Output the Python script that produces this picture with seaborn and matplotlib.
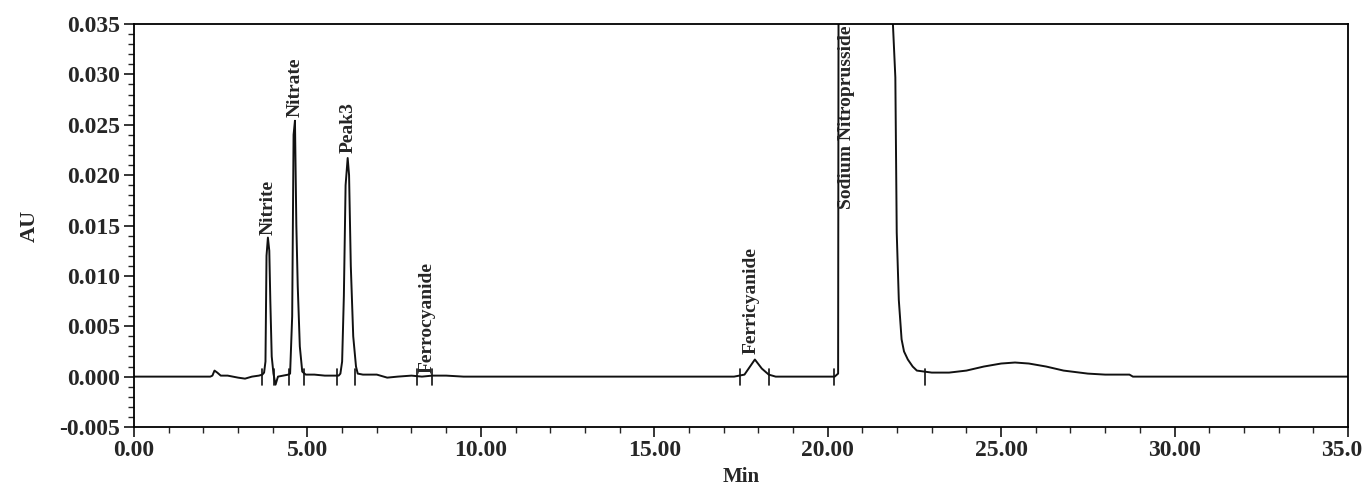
import matplotlib
matplotlib.use("Agg")
import matplotlib.pyplot as plt
import seaborn as sns
import numpy as np
import pandas as pd
from matplotlib.ticker import MultipleLocator, FormatStrFormatter

# trace (min, AU)
time = [0.0, 2.2, 2.26, 2.32, 2.4, 2.5, 2.7, 3.0, 3.2, 3.4, 3.6, 3.7,
        3.75, 3.79, 3.82, 3.86, 3.9, 3.93, 3.97, 4.02, 4.08, 4.15, 4.3, 4.45,
        4.5, 4.56, 4.6, 4.64, 4.68, 4.72, 4.78, 4.85, 4.95, 5.2, 5.5, 5.9,
        5.95, 6.0, 6.05, 6.1, 6.16, 6.2, 6.25, 6.32, 6.4, 6.45, 6.6, 7.0,
        7.1, 7.3, 7.6, 8.0, 8.3, 8.6, 9.0, 9.5, 10.0, 12.0, 15.0, 17.3,
        17.6, 17.8, 17.9, 18.1, 18.3, 18.5, 20.2, 20.3, 20.32, 21.85,
        21.88, 21.95, 21.99, 22.05, 22.13, 22.2, 22.31, 22.45, 22.57, 23.0,
        23.5, 24.0, 24.5, 25.0, 25.4, 25.8, 26.3, 26.8, 27.5, 28.0, 28.7,
        28.8, 30.0, 35.0]
absorbance = [0.0, 0.0, 0.0001, 0.0006, 0.0004, 0.0001, 0.0001, -0.0001, -0.0002, 0.0, 0.0001, 0.0002,
              0.0004, 0.0015, 0.0120, 0.0138, 0.0125, 0.0075, 0.0020, 0.0003, -0.0008, 0.0, 0.0001, 0.0002,
              0.0003, 0.0060, 0.0240, 0.0254, 0.0150, 0.0090, 0.0030, 0.0005, 0.0002, 0.0002, 0.0001, 0.0001,
              0.0003, 0.0015, 0.0080, 0.0190, 0.0217, 0.0200, 0.0110, 0.0040, 0.0010, 0.0003, 0.0002, 0.0002,
              0.0001, -0.0001, 0.0, 0.0001, 0.0, 0.0001, 0.0001, 0.0, 0.0, 0.0, 0.0, 0.0,
              0.0002, 0.0012, 0.0017, 0.0008, 0.0002, 0.0, 0.0, 0.0003, 0.06, 0.06,
              0.0350, 0.0297, 0.0143, 0.0076, 0.0037, 0.0025, 0.0017, 0.0010, 0.0006, 0.0004,
              0.0004, 0.0006, 0.0010, 0.0013, 0.0014, 0.0013, 0.0010, 0.0006, 0.0003, 0.0002, 0.0002,
              0.0, 0.0, 0.0]

# integration marks on the baseline
marks = [3.70, 4.04, 4.47, 4.91, 5.86, 6.37, 8.15, 8.59, 17.47, 18.30, 20.18, 22.80]

peak_names = ["Nitrite", "Nitrate", "Peak3", "Ferrocyanide", "Ferricyanide", "Sodium Nitroprusside"]
peak_x = [3.86, 4.64, 6.16, 8.45, 17.8, 20.55]
peak_y = [0.0141, 0.0258, 0.0222, 0.0004, 0.0022, 0.0349]

sns.set_style("ticks")
plt.rcParams['font.family'] = ['Liberation Serif', 'DejaVu Serif']
plt.rcParams['font.weight'] = 'bold'

fig = plt.figure(figsize=(13.62, 4.88), dpi=100)
ax = fig.add_axes([0.0984, 0.125, 0.8913, 0.8258])

df = pd.DataFrame({"Min": time, "AU": absorbance})
sns.lineplot(data=df, x="Min", y="AU", ax=ax, color="#111111", linewidth=1.4,
             estimator=None, sort=False)

for m in marks:
    ax.plot([m, m], [-0.0008, 0.0008], color="#111111", linewidth=1.2)

for name, px, py in zip(peak_names, peak_x, peak_y):
    va = 'top' if py > 0.03 else 'bottom'
    ax.text(px, py, name, rotation=90, ha='center', va=va, fontsize=14,
            fontweight='bold')

ax.set_xlim(0, 35)
ax.set_ylim(-0.005, 0.035)
ax.xaxis.set_major_locator(MultipleLocator(5))
ax.xaxis.set_minor_locator(MultipleLocator(1))
ax.yaxis.set_major_locator(MultipleLocator(0.005))
ax.yaxis.set_minor_locator(MultipleLocator(0.001))
ax.xaxis.set_major_formatter(FormatStrFormatter('%.2f'))
ax.yaxis.set_major_formatter(FormatStrFormatter('%.3f'))
ax.tick_params(which='major', direction='out', length=7, width=1.3, labelsize=17)
ax.tick_params(axis='x', which='major', pad=2)
ax.tick_params(axis='y', which='major', pad=3)
ax.tick_params(which='minor', direction='out', length=4, width=1.0)
for lbl in ax.get_xticklabels() + ax.get_yticklabels():
    lbl.set_fontweight('bold')
for s in ax.spines.values():
    s.set_visible(True)
    s.set_linewidth(1.3)
    s.set_color("black")

ax.set_xlabel("Min", fontsize=15, fontweight='bold', labelpad=5)
ax.set_ylabel("AU", fontsize=16, fontweight='bold', labelpad=14)

fig.savefig("out.png", dpi=100)
